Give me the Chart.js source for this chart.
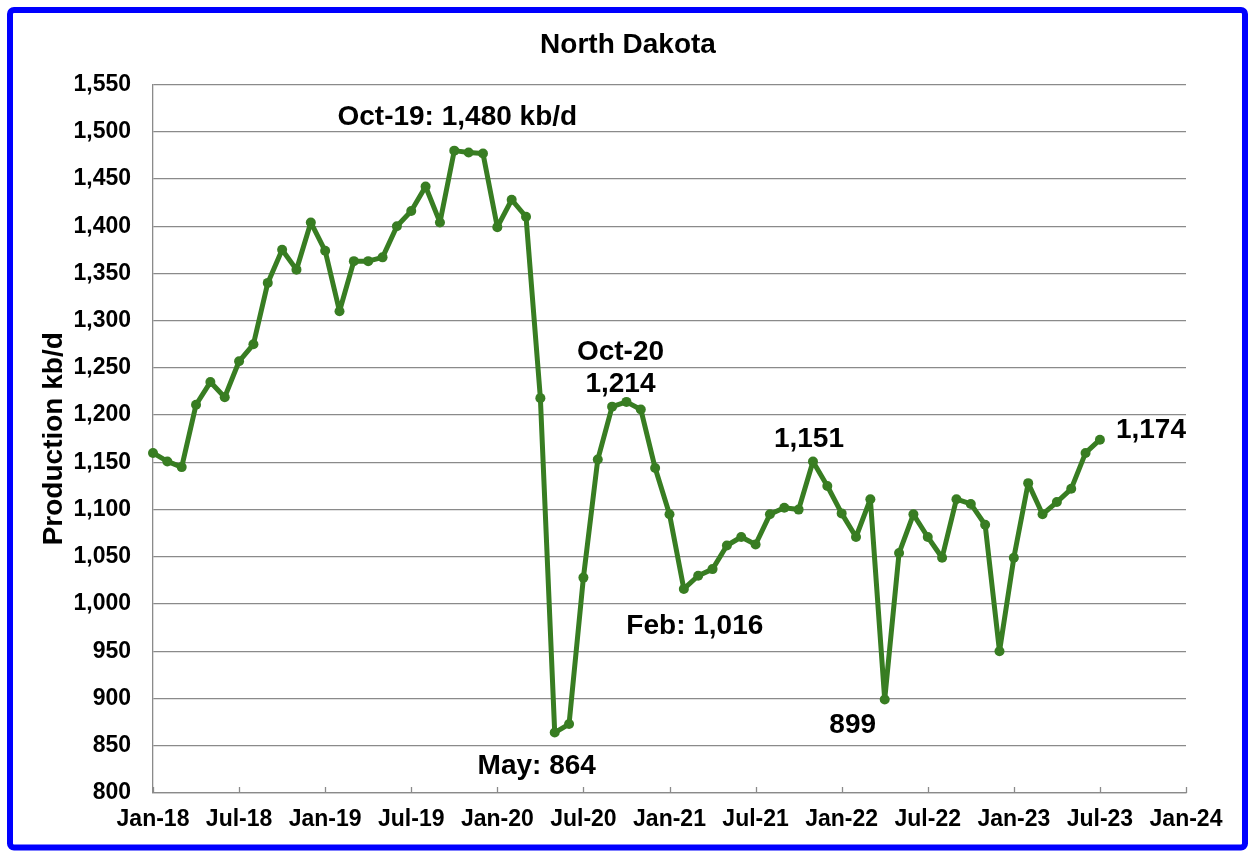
<!DOCTYPE html>
<html><head><meta charset="utf-8">
<script src="https://cdn.jsdelivr.net/npm/chart.js@4.4.1/dist/chart.umd.min.js"></script>
<style>html,body{margin:0;padding:0;background:#fff}#wrap{position:relative;width:1260px;height:858px}</style>
</head><body><div id="wrap"><canvas id="c"></canvas></div>
<script>
const chartTitle = 'North Dakota';
const yAxisTitle = 'Production kb/d';
const months = [
 'Jan-18','Feb-18','Mar-18','Apr-18','May-18','Jun-18','Jul-18','Aug-18','Sep-18','Oct-18','Nov-18','Dec-18',
 'Jan-19','Feb-19','Mar-19','Apr-19','May-19','Jun-19','Jul-19','Aug-19','Sep-19','Oct-19','Nov-19','Dec-19',
 'Jan-20','Feb-20','Mar-20','Apr-20','May-20','Jun-20','Jul-20','Aug-20','Sep-20','Oct-20','Nov-20','Dec-20',
 'Jan-21','Feb-21','Mar-21','Apr-21','May-21','Jun-21','Jul-21','Aug-21','Sep-21','Oct-21','Nov-21','Dec-21',
 'Jan-22','Feb-22','Mar-22','Apr-22','May-22','Jun-22','Jul-22','Aug-22','Sep-22','Oct-22','Nov-22','Dec-22',
 'Jan-23','Feb-23','Mar-23','Apr-23','May-23','Jun-23','Jul-23'
];
const production = [
 1160,1151,1145,1211,1235,1219,1257,1275,1340,1375,1354,1404,
 1374,1310,1363,1363,1367,1400,1416,1442,1404,1480,1478,1477,
 1399,1428,1410,1218,864,873,1028,1153,1209,1214,1206,1144,
 1095,1016,1030,1037,1062,1071,1063,1095,1102,1100,1151,1125,
 1096,1071,1111,899,1054,1095,1071,1049,1111,1106,1084,950,
 1049,1128,1095,1108,1122,1160,1174
];
const xTickLabels = ['Jan-18','Jul-18','Jan-19','Jul-19','Jan-20','Jul-20','Jan-21','Jul-21','Jan-22','Jul-22','Jan-23','Jul-23','Jan-24'];
const yMin = 800, yMax = 1550, yStep = 50;
const callouts = [
 {month:'Oct-19', text:['Oct-19: 1,480 kb/d']},
 {month:'Oct-20', text:['Oct-20','1,214']},
 {month:'May-20', text:['May: 864']},
 {month:'Feb-21', text:['Feb: 1,016']},
 {month:'Nov-21', text:['1,151']},
 {month:'Apr-22', text:['899']},
 {month:'Jul-23', text:['1,174']}
];

const GREEN = '#387D22';
const GRID = '#8a8a8a';
const FONT = "'Liberation Sans', Arial, Helvetica, sans-serif";

// label placement (pixel offsets from the anchor point)
const calloutPlacement = {
 'Oct-19': {dx: 3, dy: -33, align: 'center'},
 'Oct-20': {dx: -6, dy: -50, align: 'center', lineGap: 32},
 'May-20': {dx: -18, dy: 34, align: 'center'},
 'Feb-21': {dx: 11, dy: 37, align: 'center'},
 'Nov-21': {dx: -4, dy: -22, align: 'center'},
 'Apr-22': {dx: -32, dy: 26, align: 'center'},
 'Jul-23': {dx: 16, dy: -9, align: 'left'}
};

const decor = {
 id: 'decor',
 beforeDraw(chart) {
  const ctx = chart.ctx;
  ctx.save();
  ctx.fillStyle = '#fff';
  ctx.fillRect(0, 0, chart.width, chart.height);
  ctx.restore();
 },
 afterDraw(chart) {
  const ctx = chart.ctx;
  const xs = chart.scales.x, ys = chart.scales.y;
  ctx.save();
  // inner tick marks on x axis
  ctx.strokeStyle = GRID; ctx.lineWidth = 1.3;
  xs.ticks.forEach(t => {
   const px = Math.round(xs.getPixelForValue(t.value)) + 0.5;
   ctx.beginPath(); ctx.moveTo(px, ys.bottom); ctx.lineTo(px, ys.bottom - 6); ctx.stroke();
  });
  // title
  ctx.fillStyle = '#000';
  ctx.font = 'bold 28px ' + FONT;
  ctx.textAlign = 'center'; ctx.textBaseline = 'middle';
  ctx.fillText(chartTitle, 628, 45);
  // callouts
  callouts.forEach(c => {
   const i = months.indexOf(c.month);
   const p = calloutPlacement[c.month];
   const px = xs.getPixelForValue(i) + p.dx;
   const py = ys.getPixelForValue(production[i]) + p.dy;
   ctx.textAlign = p.align;
   c.text.forEach((line, k) => ctx.fillText(line, px, py + k * (p.lineGap || 0)));
  });
  // blue frame
  ctx.strokeStyle = '#0000FF'; ctx.lineWidth = 6; ctx.lineJoin = 'round';
  ctx.beginPath();
  if (ctx.roundRect) ctx.roundRect(10, 10, 1235, 837.5, 4); else ctx.rect(10, 10, 1235, 837.5);
  ctx.stroke();
  ctx.restore();
 }
};

new Chart(document.getElementById('c'), {
 type: 'line',
 data: {
  datasets: [{
   data: production.map((v, i) => ({x: i, y: v})),
   borderColor: GREEN, backgroundColor: GREEN,
   borderWidth: 5, pointRadius: 5, pointHoverRadius: 5,
   borderJoinStyle: 'round', borderCapStyle: 'round',
   pointBackgroundColor: GREEN, pointBorderColor: GREEN, pointBorderWidth: 0,
   tension: 0, fill: false, clip: false
  }]
 },
 options: {
  responsive: true, maintainAspectRatio: false, animation: false,
  devicePixelRatio: 1,
  layout: {padding: {left: 0, right: 74, top: 84.5, bottom: 0}},
  plugins: {legend: {display: false}, tooltip: {enabled: false}, title: {display: false}},
  scales: {
   x: {
    type: 'linear', min: 0, max: 72,
    afterFit(s) { s.height = 858 - 793; },
    afterBuildTicks(s) { s.ticks = xTickLabels.map((_, k) => ({value: k * 6})); },
    ticks: {
     autoSkip: false, maxRotation: 0, padding: 13, color: '#000',
     font: {family: FONT, size: 23, weight: 'bold'},
     callback: v => xTickLabels[Math.round(v / 6)]
    },
    grid: {drawOnChartArea: false, drawTicks: false},
    border: {display: true, color: GRID, width: 1.3}
   },
   y: {
    min: yMin, max: yMax,
    afterFit(s) { s.width = 153; },
    ticks: {
     stepSize: yStep, padding: 22, color: '#000',
     font: {family: FONT, size: 23, weight: 'bold'},
     callback: v => v.toLocaleString('en-US')
    },
    grid: {color: GRID, lineWidth: 1.3, drawTicks: false},
    border: {display: true, color: GRID, width: 1.3},
    title: {display: true, text: yAxisTitle, color: '#000', padding: {top: 37, bottom: 0},
     font: {family: FONT, size: 28, weight: 'bold'}}
   }
  }
 },
 plugins: [decor]
});
</script>
</body></html>
